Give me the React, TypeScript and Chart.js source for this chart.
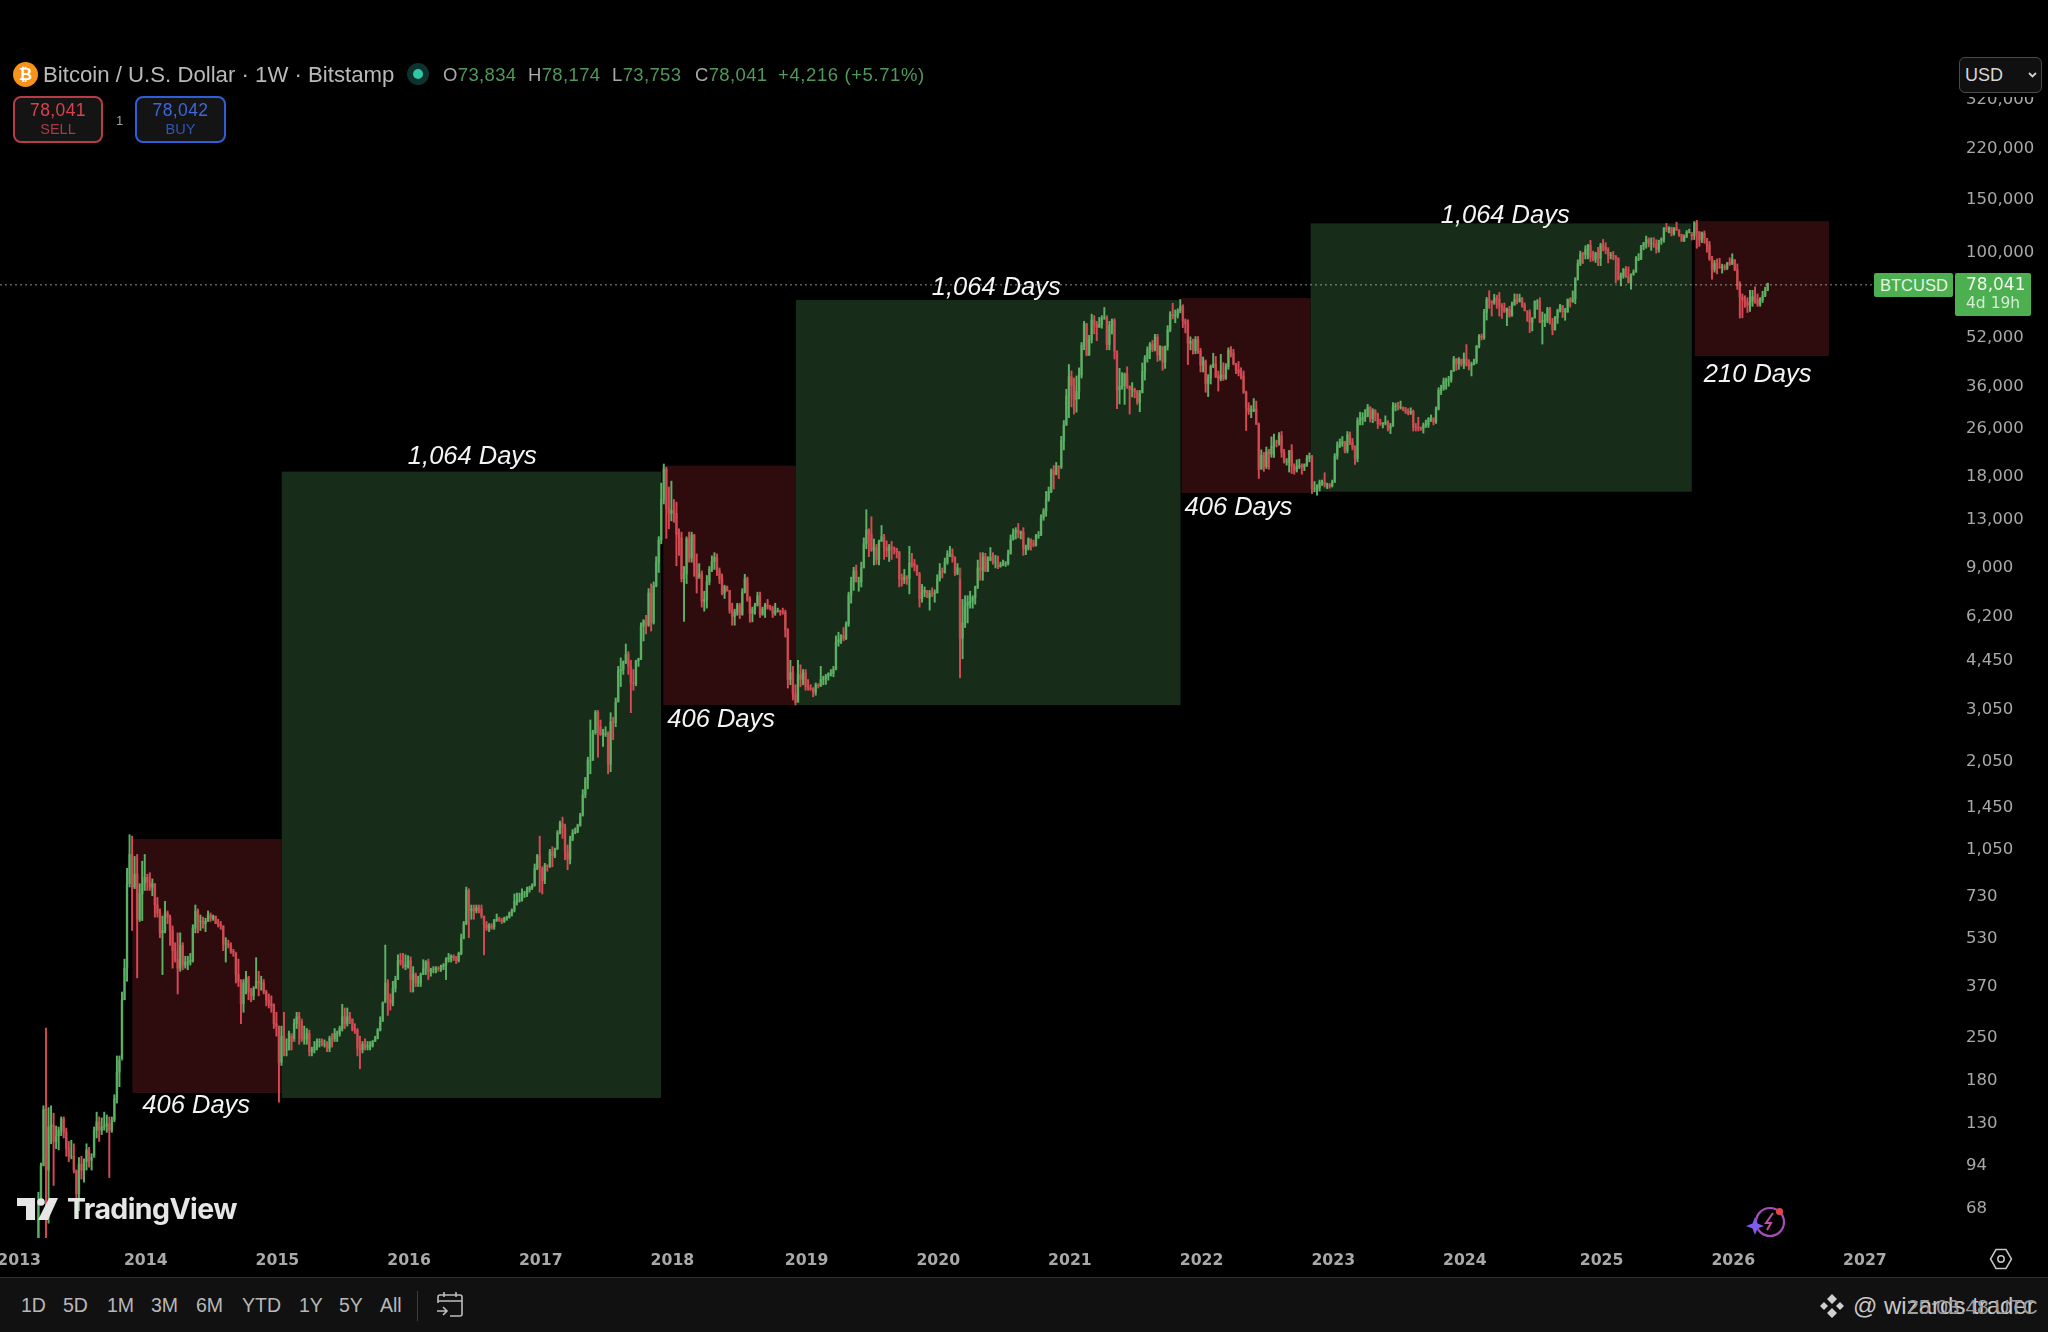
import React, { useEffect, useRef } from "react";
import { Chart, registerables } from "chart.js";

Chart.register(...registerables);

// Weekly rows: [low, high, close]. First row is the week of 4 Mar 2013 (week index -5).
const weeks2013 = [[40,48,47],[44,48,46],[47,76,71],[70,95,93],[93,147,143],
[50,266,90],[60,145,125],[110,147,127],[80,139,112],[106,126,117],[105,125,122],[117,135,133],[115,135,120],[100,124,106],[96,112,100],[98,113,100],[88,110,90],[65,90,75],[66,99,94],[84,100,90],[82,98,96],[90,110,105],[92,107,97],[90,102,99],[100,125,122],[115,140,130],[112,135,122],[118,134,125],[122,140,126],[120,137,128],[85,135,122],[120,135,132],[130,160,155],[150,215,190],[170,215,208],[210,350,330],[330,450,420],[380,900,800],[780,1163,1000],[560,1150,780],[770,985,860],[390,1000,610],[600,800,740],[604,950,800]];
const weeks2014 = [[760,1000,840],[760,860,810],[760,870,780],[730,830,800],[620,800,680],[620,720,640],[530,660,550],[400,625,560],[550,700,640],[590,650,620],[500,630,560],[420,580,480],[440,510,450],[345,550,420],[410,550,500],[415,510,430],[420,460,440],[415,460,440],[430,470,445],[440,585,570],[550,680,650],[550,660,600],[560,630,600],[570,620,590],[555,615,600],[600,650,630],[600,640,615],[605,630,625],[590,625,590],[575,610,585],[565,600,580],[480,580,505],[440,530,505],[490,520,500],[470,510,478],[460,485,475],[375,470,400],[365,450,380],[275,385,320],[300,385,375],[345,410,390],[330,395,350],[325,360,340],[330,365,360],[360,455,380],[340,410,375],[355,395,375],[345,385,350],[315,355,330],[310,345,320],[300,340,315],[265,320,275]];
const weeks2015 = [[250,300,270],[151,270,205],[200,270,250],[215,300,225],[215,245,225],[225,260,255],[225,250,240],[245,285,275],[265,300,290],[235,300,285],[240,280,245],[235,270,245],[235,265,255],[215,262,222],[215,230,225],[220,240,230],[225,245,240],[230,245,240],[232,245,235],[230,243,235],[222,240,228],[222,250,246],[230,255,245],[240,265,255],[240,260,255],[250,270,265],[260,319,290],[265,310,275],[270,310,290],[275,300,285],[260,285,263],[255,275,262],[215,265,228],[195,250,225],[220,240,235],[225,245,230],[225,240,232],[225,240,232],[230,242,240],[240,250,245],[245,265,262],[260,290,280],[280,325,322],[325,501,375],[293,385,330],[305,345,322],[315,380,360],[350,395,385],[385,465,445],[430,470,440],[420,470,425],[415,465,430]];
const weeks2016 = [[420,462,445],[350,458,385],[350,425,400],[365,405,375],[365,395,375],[365,405,400],[400,448,420],[400,445,440],[385,450,410],[395,420,415],[405,425,415],[405,425,420],[410,425,418],[410,430,425],[415,435,430],[385,455,450],[440,470,455],[440,465,460],[445,465,455],[435,460,445],[440,475,470],[465,545,530],[525,600,590],[585,780,760],[530,770,650],[610,680,660],[610,680,650],[640,680,665],[640,680,660],[615,680,625],[465,625,585],[560,600,570],[555,590,580],[565,590,575],[565,610,605],[600,635,610],[600,620,605],[590,615,600],[595,620,615],[605,625,620],[615,645,640],[625,660,655],[645,740,700],[680,745,705],[695,745,705],[700,770,740],[720,755,740],[725,780,765],[750,785,775],[765,800,790],[785,930,900],[890,1000,990]];
const weeks2017 = [[750,1150,900],[740,910,820],[800,935,920],[880,925,915],[905,1040,1020],[910,1060,990],[975,1050,1040],[1040,1200,1180],[1170,1290,1265],[1130,1330,1230],[960,1260,1020],[890,1075,965],[930,1150,1120],[1110,1210,1180],[1170,1225,1190],[1180,1260,1250],[1240,1370,1350],[1340,1640,1575],[1540,1800,1770],[1650,2100,2050],[1850,2790,2050],[2050,2580,2530],[2500,3000,2960],[2100,3000,2650],[2480,2790,2500],[2280,2600,2500],[2460,2650,2520],[1850,2550,1990],[1880,2950,2750],[2400,2850,2740],[2650,3300,3200],[3200,4200,4060],[3600,4480,4100],[3950,4380,4350],[4290,4980,4600],[3950,4700,4200],[2950,4400,3700],[3500,4100,3680],[3620,4400,4380],[4200,4470,4450],[4420,5850,5700],[5100,6000,5950],[5380,6200,5760],[5700,7600,7350],[5500,7880,5870],[5800,8000,7780],[7700,9700,9300],[8600,11300,11000],[10700,17000,15000],[14500,19666,18900],[11150,19200,14000],[12000,16500,13500]];
const weeks2018 = [[12750,17250,13800],[12600,15000,13500],[9050,14700,11500],[9800,12000,11200],[8000,11700,8200],[5920,9000,8500],[7900,11280,11100],[9300,11700,9600],[9300,11700,11450],[8350,11500,9150],[7350,9900,8200],[8300,9200,8500],[6600,8700,6900],[6400,7450,7000],[6550,8400,8000],[7820,9000,8800],[8650,9760,9350],[8800,10000,9650],[8400,9900,8700],[7900,8900,8200],[7250,8500,7350],[7050,7800,7700],[7450,7750,7500],[6300,7500,6450],[5750,6800,6150],[5750,6500,6350],[6200,6800,6700],[6050,6800,6250],[6200,7600,7400],[7350,8480,8200],[6900,8300,7000],[5880,7150,6300],[5900,6600,6500],[6250,6800,6700],[6650,7400,7200],[6100,7400,6250],[6200,6600,6500],[6100,6800,6700],[6500,7000,6600],[6450,6700,6550],[6100,6650,6300],[6200,6800,6400],[6350,6550,6420],[6200,6450,6380],[6250,6550,6350],[5250,6450,5550],[3560,5600,3800],[3650,4400,4000],[3250,4200,3400],[3130,3650,3190],[3200,4400,3950],[3600,4250,3800]];
const weeks2019 = [[3650,4100,4000],[3500,4100,3600],[3500,3800,3550],[3500,3650,3530],[3330,3570,3450],[3370,3700,3640],[3560,3680,3620],[3600,4200,3800],[3650,3900,3830],[3660,3950,3900],[3780,4000,3980],[3900,4100,3980],[3880,4200,4100],[4090,5300,5050],[4900,5450,5150],[5000,5350,5300],[5100,5650,5200],[5150,5900,5800],[5700,7400,7250],[6800,8300,8000],[7500,8950,8700],[8000,9100,8000],[7450,8300,8000],[7700,9300,8900],[8900,11200,10700],[10300,13880,11900],[9700,12000,11500],[10100,13150,10200],[9100,11100,10400],[9150,10650,9500],[9100,11000,10900],[10900,12300,11300],[9500,11500,10400],[9700,10950,10150],[9350,10650,10400],[9500,10900,10350],[9900,10450,10300],[9600,10350,10050],[7700,10100,8200],[7750,8500,8150],[7900,8800,8300],[7850,8400,8220],[7300,10500,9250],[8950,9950,9200],[8700,9500,9050],[8400,9100,8500],[6600,8600,7050],[6850,7850,7400],[7150,7700,7500],[7100,7500,7100],[6450,7500,7330],[7150,7650,7300],[6850,7530,7350]];
const weeks2020 = [[7350,8450,8180],[8050,9200,8700],[8250,8900,8620],[8550,9600,9300],[9150,10150,9900],[9700,10500,9900],[9300,10300,9650],[8400,9700,8550],[8450,9200,8900],[3850,8150,5200],[4450,7000,5850],[5650,7200,6700],[5850,7200,6850],[6550,7450,6900],[6550,7200,7100],[6750,7750,7700],[7600,9450,8900],[8100,10000,8750],[8100,10000,9700],[8650,9950,8700],[8650,9700,9450],[9400,10400,9650],[9150,10000,9300],[8900,9800,9300],[8850,9750,9000],[8950,9300,9100],[9050,9450,9200],[9000,9350,9200],[9100,10200,9900],[9900,11450,11050],[11000,12000,11700],[11100,12100,11850],[11200,12500,11600],[11100,11800,11700],[9800,12100,10300],[9850,10600,10350],[10200,11200,11100],[10200,11100,10750],[10450,11000,10600],[10500,11500,11350],[11150,11750,11400],[11400,13350,13050],[12800,14000,13750],[13200,15950,15000],[14800,16500,15950],[15800,18950,18700],[16250,19450,18200],[18100,19900,19350],[17600,19400,19250],[19000,24300,23500],[21900,27400,26450],[26400,34800,33000]];
const weeks2021 = [[28000,42000,38300],[30400,40000,35800],[28800,37900,32200],[29200,38500,34200],[32300,40950,38850],[37900,49700,48600],[47000,58400,57400],[44900,57400,45200],[45000,52500,50900],[49500,61700,59000],[53100,61000,57400],[50400,58400,55800],[55800,60200,57000],[55400,61000,59800],[59300,64900,60000],[47000,61000,49000],[47000,58400,56600],[53000,59500,58800],[43800,59600,46500],[30000,46600,34600],[31100,40800,35600],[34800,39500,35800],[31000,39400,39000],[35000,41300,35600],[28800,35700,34700],[32800,36600,34700],[32600,35100,34200],[31000,34500,31500],[29300,34500,33800],[33900,42500,39900],[37300,45000,44000],[42800,48100,47000],[43900,49700,49000],[46300,50500,47000],[46600,52900,51800],[43000,52900,45200],[43400,48500,48300],[40200,48000,42800],[40800,48400,48200],[46900,56500,54700],[53900,62900,61500],[59500,67000,60900],[57800,63700,61300],[59900,64300,63300],[62300,69000,65500],[55700,66300,58600],[53500,59500,57300],[42000,59100,49400],[47000,51900,50100],[45500,51000,46700],[45600,52000,50800],[45700,52000,46500]];
const weeks2022 = [[39700,47500,41800],[39700,44500,43100],[34000,43500,36300],[32900,38900,37900],[36200,41900,41400],[41000,45800,42200],[38000,44700,38300],[34300,40000,37700],[37100,45400,38800],[37200,42600,37800],[37500,42300,41300],[40500,47700,46800],[44500,48200,45800],[41900,47200,42200],[39200,42400,40400],[38500,43000,39500],[37600,41000,38500],[33700,40000,34000],[25400,34300,30100],[28700,31400,29400],[28000,30700,29500],[29300,32400,29900],[26600,31800,26600],[17600,26900,18900],[18900,21900,21000],[18600,21500,19300],[19000,22400,21600],[18900,22000,21200],[20700,24200,22500],[20700,24700,23300],[22400,23600,23200],[22700,25000,24400],[20700,25200,21500],[19800,22000,20000],[19500,20500,20000],[18500,21800,21800],[18300,22800,19400],[18200,19700,18800],[18500,20300,19300],[19000,20400,19400],[18200,19700,19250],[18700,19700,19550],[19300,21000,20600],[20000,21400,20900],[15700,21000,16300],[15900,17200,16300],[15500,16800,16400],[16000,17400,17100],[16700,17400,17100],[16500,18400,16800],[16300,17000,16800],[16350,16950,16650]];
const weeks2023 = [[16500,17400,17100],[17100,21300,20900],[20400,23300,22700],[22300,23800,23000],[22500,24250,23300],[21400,23400,21800],[21400,25200,24600],[22800,25100,23200],[21900,23900,22400],[19600,22600,20500],[20000,28000,27400],[26500,29200,27500],[26500,29100,28000],[27200,29800,28300],[28200,31000,30300],[27100,30500,27800],[26950,30000,29500],[27300,29800,28800],[25800,29000,26800],[26400,27700,26750],[25900,27000,26850],[26500,28400,27100],[25300,27400,25850],[24800,26800,26300],[26200,31400,30500],[29500,31300,30600],[29700,31500,30300],[29900,31800,30300],[29500,30400,29800],[28900,30300,29200],[28600,30000,29000],[28700,30200,29400],[25300,29700,26100],[25300,26800,26000],[25300,28100,25900],[25400,26100,25800],[24900,26900,26500],[26000,27500,26600],[26000,28000,27900],[27200,28600,27900],[26500,28000,27100],[26800,30400,29900],[29700,35200,34500],[33400,35900,35000],[34500,37900,37000],[34800,37900,37400],[35600,38400,37400],[36700,40200,39900],[39900,44700,43800],[40200,44000,42250],[40500,44300,43700],[41500,43800,42300]];
const weeks2024 = [[40700,45900,43900],[41500,48900,41700],[40300,43600,41600],[38500,42800,42000],[41900,43800,43000],[42300,48600,48300],[47700,52800,52100],[50700,53000,51700],[50900,64000,62500],[59000,70100,69000],[64500,73800,68400],[60800,68100,67200],[66500,71800,69700],[64500,71300,69300],[60800,72800,65700],[59700,66900,64900],[62500,67200,63100],[56500,64700,64000],[60200,65500,60900],[60700,67700,66200],[66000,72000,69000],[66700,71900,67800],[67600,71900,69600],[65000,70100,66200],[63400,67300,63200],[58400,63300,62700],[53600,63800,58000],[54300,60100,59900],[59900,68300,68100],[64000,68900,68200],[57800,70000,58100],[49100,62700,58700],[56100,61800,58900],[57800,65000,64200],[57200,65000,57300],[52700,59800,54800],[54600,60600,60000],[57500,64100,63500],[62700,66500,65700],[60100,66000,62800],[58900,64500,62900],[62500,69300,69000],[65100,70000,68000],[67500,73700,69400],[66800,81500,80400],[80000,93400,90800],[89300,99800,97800],[90800,98900,97100],[94000,104000,101000],[94100,105000,104500],[92200,108300,95200],[92600,99900,93700],[91500,99000,98400]];
const weeks2025 = [[89300,102700,94500],[89300,106000,104500],[100000,109100,102700],[97800,106500,100600],[91200,102500,96500],[94000,98800,96500],[93400,99500,96300],[78200,96500,94300],[80000,95000,80700],[76600,84500,82600],[81200,87500,86800],[81600,88800,82300],[78300,88500,78300],[74600,84000,83700],[83000,86500,85000],[85000,95800,94000],[92800,97900,94300],[93500,104300,104000],[100800,106600,106400],[102000,112000,109000],[103100,110400,105700],[100400,110400,105700],[102700,110600,105500],[98300,108900,101000],[99000,108500,108400],[105100,110500,109200],[106800,119400,119000],[115700,123300,117900],[114700,120200,119400],[112000,119800,114200],[112700,119300,119300],[116800,124500,117400],[111700,117400,113500],[107300,113500,108200],[107300,113000,111100],[110700,116800,115300],[114700,118000,115300],[108600,113800,112100],[109000,125000,123500],[102000,126200,115000],[103500,116000,108600],[106500,115500,114500],[106000,116400,110000],[99000,110000,104700],[93000,107500,94100],[80600,96000,86800],[85000,93000,90900],[83900,94000,88200],[87500,94500,88100],[84400,90400,88500],[86400,90000,87800],[86700,91500,91400]];
const weeks2026 = [[89500,94800,90500],[90000,97800,93600],[86000,93300,86600],[74500,90500,76900],[59900,79000,70300],[60000,72000,68800],[65000,71000,67700],[62500,70000,66000],[63000,74000,68000],[65500,74000,70500],[67000,76000,69000],[65500,72000,66500],[65500,70000,69000],[67500,73500,71000],[70500,75800,73834],[73753,78174,78041]];

const firstWeekIndex = -5;
const lastPrice = 78041;

const yearLabels = ["2013","2014","2015","2016","2017","2018","2019","2020","2021","2022","2023","2024","2025","2026","2027"];
const yearWeekIndex = [-11,39,91,143,195,247,300,352,404,456,508,560,614,666,718];
const priceTicks = [320000,220000,150000,100000,52000,36000,26000,18000,13000,9000,6200,4450,3050,2050,1450,1050,730,530,370,250,180,130,94,68];

// Time/price boxes in data units: week index and price.
const zoneStart = [34.1,93.1,243.8,296.2,448.5,499.5,651.2];
const zoneEnd = [93.1,242.9,296.2,448.1,499.5,650,704.2];
const zoneTop = [1125,18560,19410,68700,69760,123300,125500];
const zoneBottom = [162,156,3126,3126,15760,15920,44810];
const zoneKind = ["down","up","down","up","down","up","down"];
const zoneText = ["406 Days","1,064 Days","406 Days","1,064 Days","406 Days","1,064 Days","210 Days"];

const textDx = [10,1,4,8,3,4,9];
const textDy = [12.5,-15,14.5,-12,14.5,-8,19];

const allWeeks = [...weeks2013,...weeks2014,...weeks2015,...weeks2016,...weeks2017,...weeks2018,...weeks2019,...weeks2020,...weeks2021,...weeks2022,...weeks2023,...weeks2024,...weeks2025,...weeks2026];

const GREEN = "#5cb264";
const RED = "#d64853";
const GREEN_BODY = "rgba(110,165,100,0.7)";
const RED_BODY = "rgba(190,95,80,0.7)";

const zonesPlugin = {
  id: "zones",
  beforeDatasetsDraw(chart: any) {
    const { ctx, scales } = chart;
    ctx.save();
    zoneStart.forEach((s, i) => {
      const x0 = scales.x.getPixelForValue(s);
      const x1 = scales.x.getPixelForValue(zoneEnd[i]);
      const y0 = scales.y.getPixelForValue(zoneTop[i]);
      const y1 = scales.y.getPixelForValue(zoneBottom[i]);
      ctx.fillStyle = zoneKind[i] === "up" ? "#172c19" : "#2e0c0e";
      ctx.fillRect(x0, y0, x1 - x0, y1 - y0);
    });
    ctx.restore();
  },
  afterDatasetsDraw(chart: any) {
    const { ctx, scales } = chart;
    ctx.save();
    ctx.strokeStyle = "rgba(175,195,175,0.75)";
    ctx.lineWidth = 1;
    ctx.setLineDash([2, 3]);
    const py = scales.y.getPixelForValue(lastPrice) + 1.5;
    ctx.beginPath();
    ctx.moveTo(0, py);
    ctx.lineTo(1874, py);
    ctx.stroke();
    ctx.setLineDash([]);
    ctx.fillStyle = "#f4f4f4";
    ctx.font = 'italic 25.5px "Liberation Sans"';
    ctx.textBaseline = "middle";
    zoneStart.forEach((s, i) => {
      const up = zoneKind[i] === "up";
      const x = up
        ? (scales.x.getPixelForValue(s) + scales.x.getPixelForValue(zoneEnd[i])) / 2
        : scales.x.getPixelForValue(s);
      const y = scales.y.getPixelForValue(up ? zoneTop[i] : zoneBottom[i]);
      ctx.textAlign = up ? "center" : "left";
      ctx.fillText(zoneText[i], x + textDx[i], y + textDy[i]);
    });
    ctx.restore();
  },
};

const abs = (left: number, top: number, extra: any = {}) => ({
  position: "absolute" as const, left, top, whiteSpace: "nowrap" as const, ...extra,
});

function T({ x, y, children, size = 18, color = "#b8b8b8", family = '"Liberation Sans"', extra = {} }: any) {
  return (
    <div style={abs(x, y, { transform: "translateY(-50%)", fontSize: size, color, fontFamily: family, lineHeight: 1, ...extra })}>
      {children}
    </div>
  );
}

const rangeButtons = [["1D",21],["5D",63],["1M",107],["3M",151],["6M",196],["YTD",242],["1Y",299],["5Y",339],["All",380]];
const ohlcLabels = [["O","73,834",443],["H","78,174",528],["L","73,753",612],["C","78,041",695]];

export default function App() {
  const ref = useRef<HTMLCanvasElement>(null);
  useEffect(() => {
    document.body.style.margin = "0";
    document.body.style.background = "#000";
    const closes = allWeeks.map((w) => w[2]);
    const up = closes.map((c, i) => c >= (i > 0 ? closes[i - 1] : c));
    const chart = new Chart(ref.current as HTMLCanvasElement, {
      type: "bar",
      data: {
        datasets: [
          {
            data: allWeeks.map((w, i) => ({ x: i + firstWeekIndex, y: [w[0], w[1]] })),
            backgroundColor: up.map((u) => (u ? GREEN : RED)),
            barThickness: 1.3,
            grouped: false,
            borderWidth: 0,
          } as any,
          {
            data: allWeeks.map((w, i) => ({ x: i + firstWeekIndex, y: [i > 0 ? closes[i - 1] : w[0], w[2]] })),
            backgroundColor: up.map((u) => (u ? GREEN_BODY : RED_BODY)),
            barThickness: 1.9,
            grouped: false,
            borderWidth: 0,
          } as any,
        ],
      },
      options: {
        responsive: false,
        devicePixelRatio: 1,
        animation: false,
        layout: { padding: 0 },
        plugins: { legend: { display: false }, tooltip: { enabled: false }, title: { display: false } },
        scales: {
          x: {
            type: "linear",
            min: -18.17,
            max: 752,
            offset: false,
            grid: { display: false, drawTicks: false },
            border: { display: false },
            afterFit(s: any) { s.height = 94; s.paddingLeft = 0; s.paddingRight = 0; },
            afterBuildTicks(s: any) { s.ticks = yearWeekIndex.map((v) => ({ value: v })); },
            ticks: {
              autoSkip: false,
              maxRotation: 0,
              padding: 14,
              labelOffset: 1,
              color: "#a9a9a9",
              font: { family: '"DejaVu Sans"', size: 15.7, weight: "bold" },
              callback: (v: any) => yearLabels[yearWeekIndex.indexOf(Number(v))] ?? "",
            },
          },
          y: {
            type: "logarithmic",
            position: "right",
            min: 53.6,
            max: 678000,
            grid: { display: false, drawTicks: false },
            border: { display: false },
            afterFit(s: any) { s.width = 98; s.paddingTop = 0; s.paddingBottom = 0; },
            afterBuildTicks(s: any) { s.ticks = priceTicks.map((v) => ({ value: v })); },
            ticks: {
              autoSkip: false,
              padding: 16,
              labelOffset: 1.5,
              crossAlign: "near",
              color: "#a8a8a8",
              font: { family: '"DejaVu Sans"', size: 16.5 },
              callback: (v: any) => Number(v).toLocaleString("en-US"),
            },
          },
        },
      } as any,
      plugins: [zonesPlugin as any],
    });
    return () => chart.destroy();
  }, []);

  return (
    <div style={{ position: "fixed", left: 0, top: 0, width: 2048, height: 1332, background: "#000", overflow: "hidden" }}>
      <canvas ref={ref} width={2048} height={1332} style={{ position: "absolute", left: 0, top: 0, display: "block" }} />

      {/* Header */}
      <div style={abs(13, 62, { width: 25, height: 25, borderRadius: "50%", background: "#f7931a", color: "#fff", fontFamily: '"Liberation Sans"', fontWeight: 700, fontSize: 16, lineHeight: "25px", textAlign: "center" })}>₿</div>
      <T x={43} y={74.5} size={22.2} color="#b9b9b9">Bitcoin / U.S. Dollar · 1W · Bitstamp</T>
      <div style={abs(407, 63, { width: 22, height: 22, borderRadius: "50%", background: "#0d332e" })} />
      <div style={abs(413, 69, { width: 10, height: 10, borderRadius: "50%", background: "#2fc7a5" })} />
      {ohlcLabels.map(([k, v, x]: any) => (
        <T key={k} x={x} y={74.5} size={18.5} color="#a8a8a8" extra={{ letterSpacing: 0.35 }}>
          {k}<span style={{ color: "#4f9a5a" }}>{v}</span>
        </T>
      ))}
      <T x={778} y={74.5} size={18.5} color="#4f9a5a" extra={{ letterSpacing: 0.6 }}>+4,216 (+5.71%)</T>

      <div style={abs(13, 96, { width: 90, height: 47, boxSizing: "border-box", border: "2px solid #b83c46", borderRadius: 8, background: "#141414" })} />
      <T x={13} y={111} size={17.5} color="#d8434f" extra={{ width: 90, textAlign: "center", letterSpacing: 0.4 }}>78,041</T>
      <T x={13} y={129} size={14.5} color="#a83c44" extra={{ width: 90, textAlign: "center" }}>SELL</T>
      <T x={116} y={120} size={13} color="#a0a0a0">1</T>
      <div style={abs(135, 96, { width: 91, height: 47, boxSizing: "border-box", border: "2px solid #2f5fd8", borderRadius: 8, background: "#141414" })} />
      <T x={135} y={111} size={17.5} color="#3d68dc" extra={{ width: 91, textAlign: "center", letterSpacing: 0.4 }}>78,042</T>
      <T x={135} y={129} size={14.5} color="#2f55b8" extra={{ width: 91, textAlign: "center" }}>BUY</T>

      {/* Currency selector, masking the top of the price axis */}
      <div style={abs(1955, 0, { width: 93, height: 97, background: "#000" })} />
      <div style={abs(1959, 57, { width: 83, height: 36, boxSizing: "border-box", border: "1.5px solid #4a4a4a", borderRadius: 6, background: "#101010" })} />
      <T x={1965} y={75} size={18} color="#d8d8d8">USD</T>
      <svg style={abs(2027, 71)} width="11" height="8" viewBox="0 0 11 8">
        <path d="M2 2 L5.5 5.5 L9 2" stroke="#cfcfcf" strokeWidth="1.8" fill="none" />
      </svg>

      {/* Last price tags */}
      <div style={abs(1874, 273, { width: 79, height: 24, background: "#4caf50", borderRadius: 2 })} />
      <T x={1880} y={285} size={16.5} color="#e6f4e6">BTCUSD</T>
      <div style={abs(1955, 273, { width: 76, height: 43, background: "#4caf50", borderRadius: 2 })} />
      <T x={1966} y={284} size={17} color="#f2f8f2" family='"DejaVu Sans"'>78,041</T>
      <T x={1966} y={304} size={15.5} color="#d5ecd5" family='"DejaVu Sans"'>4d 19h</T>

      {/* TradingView mark */}
      <svg style={abs(17, 1198)} width="41" height="22" viewBox="0 0 41 22" fill="#e6e6e6">
        <path d="M0 0H18V22H9V8H0Z" />
        <circle cx="24" cy="4" r="3.8" />
        <path d="M32 0H41L31 22H21Z" />
      </svg>
      <T x={67} y={1209} size={28.5} color="#e6e6e6" family='"Inter","Liberation Sans"' extra={{ fontWeight: 700, letterSpacing: -0.6 }}>TradingView</T>

      {/* Assistant icon */}
      <svg style={abs(1745, 1200)} width="45" height="42" viewBox="0 0 45 42">
        <circle cx="25" cy="22" r="14" stroke="#a64cb8" strokeWidth="2.2" fill="none" />
        <path d="M28 13 L21 23 H26 L22 30" stroke="#c04fa8" strokeWidth="2" fill="none" />
        <path d="M10 17 L12.5 23.5 L19 26 L12.5 28.5 L10 35 L7.5 28.5 L1 26 L7.5 23.5Z" fill="#7d5cf0" />
        <circle cx="34.5" cy="11.5" r="3.6" fill="#e04848" />
      </svg>

      {/* Settings icon */}
      <svg style={abs(1989, 1248)} width="24" height="22" viewBox="0 0 24 22">
        <path d="M7 1.5H17L22.5 11L17 20.5H7L1.5 11Z" stroke="#c6c6c6" strokeWidth="1.5" fill="none" />
        <circle cx="12" cy="11" r="3.2" stroke="#c6c6c6" strokeWidth="1.5" fill="none" />
      </svg>

      {/* Bottom toolbar */}
      <div style={abs(0, 1277, { width: 2048, height: 55, background: "#111", borderTop: "1.5px solid #303030", boxSizing: "border-box" })} />
      {rangeButtons.map(([label, x]: any) => (
        <T key={label} x={x} y={1306} size={19.5} color="#b8b8b8">{label}</T>
      ))}
      <div style={abs(417, 1291, { width: 1, height: 30, background: "#3c3c3c" })} />
      <svg style={abs(436, 1291)} width="28" height="27" viewBox="0 0 28 27">
        <path d="M2 12V6Q2 4 4 4H24Q26 4 26 6V23Q26 25 24 25H14" stroke="#bdbdbd" strokeWidth="1.6" fill="none" />
        <path d="M2 10H26M8 1V6M20 1V6M1 20H11M7 16L11 20L7 24" stroke="#bdbdbd" strokeWidth="1.6" fill="none" />
      </svg>
      <svg style={abs(1819, 1293)} width="26" height="26" viewBox="0 0 26 26" fill="#cfcfcf">
        <path d="M13 1L18 6L13 11L8 6Z M5 9L9 13L5 17L1 13Z M21 9L25 13L21 17L17 13Z M13 15L18 20L13 25L8 20Z" />
      </svg>
      <T x={1853} y={1306} size={24} color="#c8c8c8">@ wizards trader</T>
      <T x={1907} y={1306} size={21} color="#9c9c9c">25:03:48 UTC</T>
    </div>
  );
}
